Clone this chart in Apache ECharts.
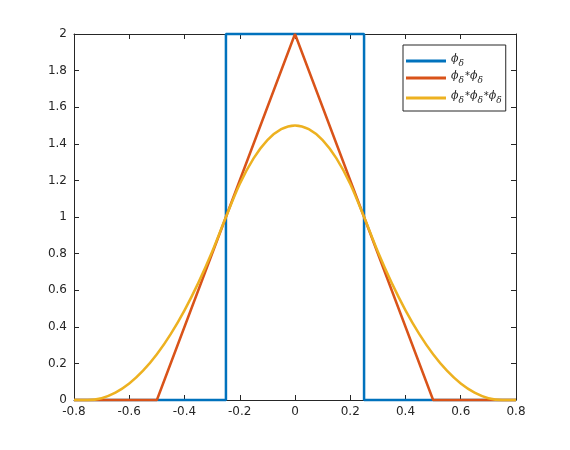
<!DOCTYPE html>
<html>
<head>
<meta charset="UTF-8">
<script src="https://cdn.jsdelivr.net/npm/echarts@6/dist/echarts.min.js"></script>
<style>
  html, body { margin: 0; padding: 0; background: #fff; }
  #main { width: 570px; height: 450px; }
</style>
</head>
<body>
<div id="main"></div>
<script>
// data
var boxX = [-0.8, -0.25, -0.25, 0.25, 0.25, 0.8];
var boxY = [0, 0, 2, 2, 0, 0];
var triX = [-0.8, -0.5, 0, 0.5, 0.8];
var triY = [0, 0, 2, 0, 0];
var splX = [-0.8, -0.75, -0.7, -0.65, -0.6, -0.55, -0.5, -0.45, -0.4, -0.35, -0.3, -0.25, -0.2, -0.15, -0.1, -0.05,
            0, 0.05, 0.1, 0.15, 0.2, 0.25, 0.3, 0.35, 0.4, 0.45, 0.5, 0.55, 0.6, 0.65, 0.7, 0.75, 0.8];
var splY = [0, 0, 0.01, 0.04, 0.09, 0.16, 0.25, 0.36, 0.49, 0.64, 0.81, 1.0, 1.18, 1.32, 1.42, 1.48,
            1.5, 1.48, 1.42, 1.32, 1.18, 1.0, 0.81, 0.64, 0.49, 0.36, 0.25, 0.16, 0.09, 0.04, 0.01, 0, 0];
var names = ['s1', 's2', 's3'];
var colors = ['#0072BD', '#D95319', '#EDB120'];

function pairs(xs, ys) {
    var out = [];
    for (var i = 0; i < xs.length; i++) out.push([xs[i], ys[i]]);
    return out;
}

var labelFont = { color: '#262626', fontSize: 12, fontFamily: 'DejaVu Sans' };
var tickStyle = { inside: true, length: 5, lineStyle: { color: '#262626', width: 1 } };
var lineStyle = { color: '#262626', width: 1 };

var myChart = echarts.init(document.getElementById('main'));
var option = {
    animation: false,
    backgroundColor: '#fff',
    grid: { left: 74, right: 54, top: 34, bottom: 50 },
    legend: {
        left: 403, top: 45,
        orient: 'vertical',
        backgroundColor: '#fff',
        borderColor: '#262626', borderWidth: 1, borderRadius: 0,
        padding: [6, 3, 3, 3],
        itemWidth: 40, itemHeight: 3, itemGap: 0,
        icon: 'rect',
        data: names,
        formatter: function (n) {
            var p = '{p|\u03d5}{d|\u03b4}';
            if (n === 's1') return p;
            if (n === 's2') return p + '{s|*}' + p;
            return p + '{s|*}' + p + '{s|*}' + p;
        },
        textStyle: {
            color: '#262626',
            rich: {
                p: { fontSize: 11, fontStyle: 'italic', fontFamily: 'DejaVu Serif', lineHeight: 14, verticalAlign: 'middle', padding: [0, 0, 3, 0] },
                d: { fontSize: 9, fontStyle: 'italic', fontFamily: 'DejaVu Serif', lineHeight: 9, verticalAlign: 'bottom', padding: [8, 1, 0, 0] },
                s: { fontSize: 10, fontFamily: 'DejaVu Sans', lineHeight: 10, verticalAlign: 'top', padding: [0, 0, 7, 0] }
            }
        }
    },
    xAxis: [{
        type: 'value', min: -0.8, max: 0.8, interval: 0.2,
        axisLine: { show: true, onZero: false, lineStyle: lineStyle },
        axisTick: tickStyle,
        axisLabel: Object.assign({ margin: 6, formatter: function (v) { return +v.toFixed(1); } }, labelFont),
        splitLine: { show: false }
    }, {
        type: 'value', position: 'top', min: -0.8, max: 0.8, interval: 0.2,
        axisLine: { show: true, onZero: false, lineStyle: lineStyle },
        axisTick: tickStyle, axisLabel: { show: false }, splitLine: { show: false }
    }],
    yAxis: [{
        type: 'value', min: 0, max: 2, interval: 0.2,
        axisLine: { show: true, onZero: false, lineStyle: lineStyle },
        axisTick: tickStyle,
        axisLabel: Object.assign({ margin: 7, formatter: function (v) { return +v.toFixed(1); } }, labelFont),
        splitLine: { show: false }
    }, {
        type: 'value', position: 'right', min: 0, max: 2, interval: 0.2,
        axisLine: { show: true, onZero: false, lineStyle: lineStyle },
        axisTick: tickStyle, axisLabel: { show: false }, splitLine: { show: false }
    }],
    series: [
        { name: 's1', type: 'line', data: pairs(boxX, boxY), showSymbol: false, clip: false,
          color: colors[0], lineStyle: { width: 2.5, color: colors[0] } },
        { name: 's2', type: 'line', data: pairs(triX, triY), showSymbol: false, clip: false,
          color: colors[1], lineStyle: { width: 2.5, color: colors[1] } },
        { name: 's3', type: 'line', data: pairs(splX, splY), showSymbol: false, clip: false, smooth: 0.3,
          color: colors[2], lineStyle: { width: 2.5, color: colors[2] } }
    ]
};
myChart.setOption(option);
</script>
</body>
</html>
